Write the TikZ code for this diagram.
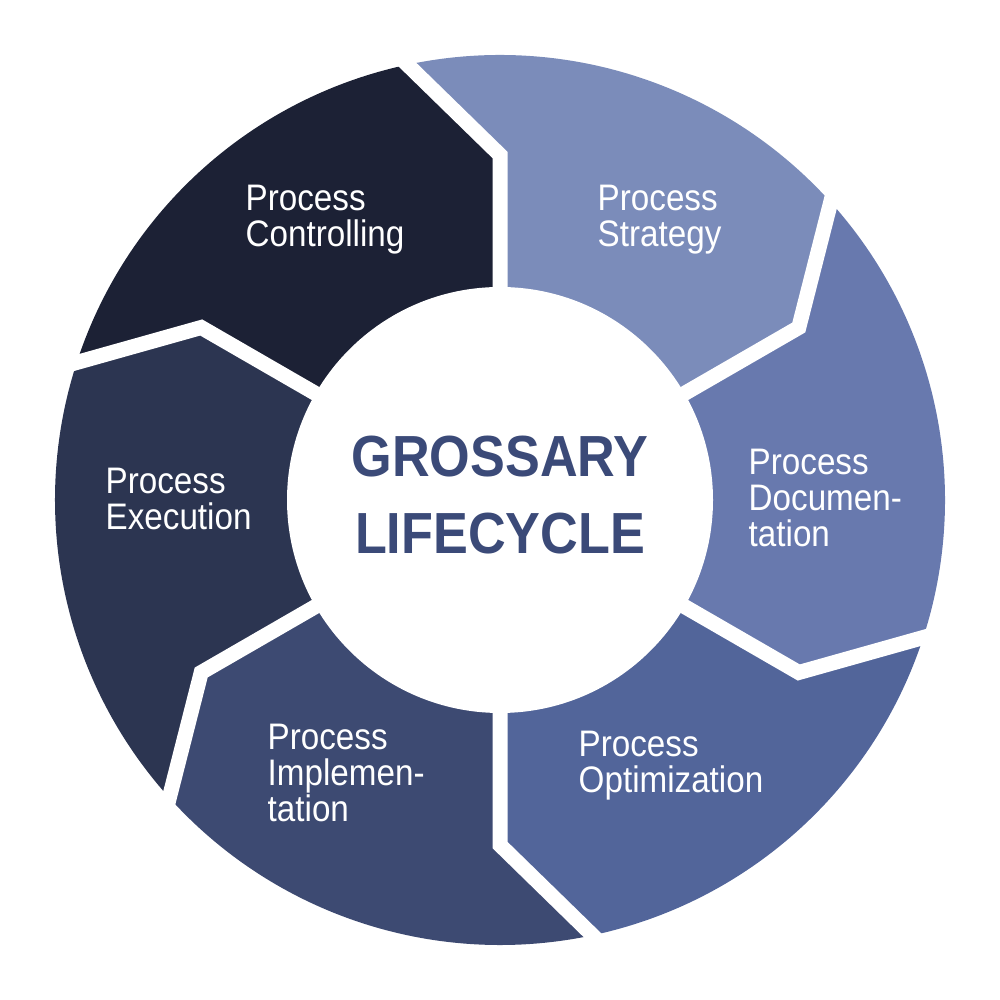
\documentclass[tikz,border=0pt]{standalone}
\usepackage{fontspec}
\setmainfont{Liberation Sans}[FakeStretch=0.9]
\usepackage{xcolor}
\usetikzlibrary{calc}
\definecolor{segA}{HTML}{1C2135}
\definecolor{segB}{HTML}{7B8CBA}
\definecolor{segC}{HTML}{6879AE}
\definecolor{segD}{HTML}{52659A}
\definecolor{segE}{HTML}{3D4A72}
\definecolor{segF}{HTML}{2C3551}
\definecolor{titleblue}{HTML}{3B4A78}
\tikzset{
  label/.style={text=white, align=left, anchor=west, inner sep=0pt,
    font=\fontsize{10.5}{10.3}\selectfont},
  gap/.style={white, line width=0.15cm, line join=miter}
}
\begin{document}
\begin{tikzpicture}
		\useasboundingbox (-5,-5) rectangle (5,5);
		\def\router{4.45} % outer radius
		\def\rmid{3.45} % bend of the chevrons
		\def\rinner{2.13} % white centre
		\def\twist{12}

		% Fill the six segments
		\foreach \a/\col in {150/segA,90/segB,30/segC,-30/segD,-90/segE,-150/segF} {
		  \pgfmathsetmacro\b{\a-60}
		  \fill[\col] (0,0) -- (\a:\rmid) -- (\a+\twist:\router)
		    arc[start angle=\a+\twist, end angle=\b+\twist, radius=\router]
		    -- (\b:\rmid) -- cycle;
		}
		% White gaps between segments
		\foreach \a in {150,90,30,-30,-90,-150} {
		  \draw[gap] (0,0) -- (\a:\rmid) -- ($(\a+\twist:\router)!-0.2!(\a:\rmid)$);
		}
		\fill[white] (0,0) circle (\rinner);

		% Texts
		\node[text=titleblue, align=center, font=\fontsize{16.5}{22}\selectfont\bfseries] (title) at (0,0.05) {GROSSARY\\LIFECYCLE};
		\node[label] (ctrl) at (-2.55,2.8) {Process\\Controlling};
		\node[label] (strat) at (0.97,2.8) {Process\\Strategy};
		\node[label] (docu) at (2.48,0.02) {Process\\Documen-\\tation};
		\node[label] (optim) at (0.78,-2.66) {Process\\Optimization};
		\node[label] (impl) at (-2.33,-2.73) {Process\\Implemen-\\tation};
		\node[label] (exec) at (-3.95,0.01) {Process\\Execution};
	  \end{tikzpicture}
\end{document}
